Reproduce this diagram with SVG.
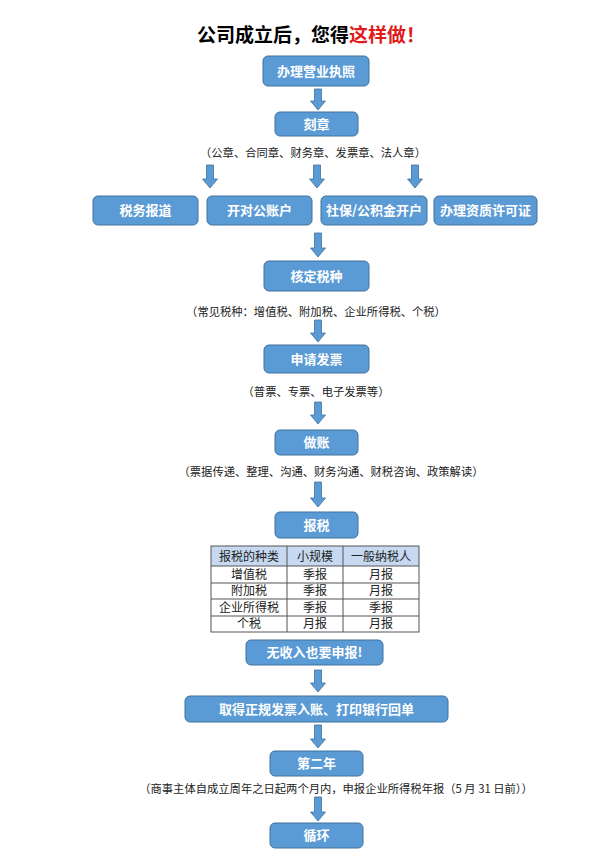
<svg xmlns="http://www.w3.org/2000/svg" width="600" height="852" viewBox="0 0 600 852">
<style>
.bg{fill:#ffffff}
.box{fill:#5b9bd5;stroke:#41719c;stroke-width:1}
.bt{font-family:"Noto Sans CJK SC","Noto Sans",sans-serif;font-size:13px;font-weight:bold;fill:#ffffff;text-anchor:middle}
.note{font-family:"Noto Sans CJK SC","Noto Sans",sans-serif;font-size:11.3px;fill:#222;text-anchor:middle}
.arr{fill:#5b9bd5;stroke:#41719c;stroke-width:0.8}
.title{font-family:"Noto Sans CJK SC","Noto Sans",sans-serif;font-size:19px;font-weight:bold;fill:#000;text-anchor:middle}
.tc{font-family:"Noto Sans CJK SC","Noto Sans",sans-serif;font-size:12px;fill:#222;text-anchor:middle}
.grid{stroke:#555;stroke-width:1;fill:none}
</style>
<rect class="bg" x="0" y="0" width="600" height="852"/>
<text class="title" x="311" y="42">公司成立后，您得<tspan fill="#e01b1b">这样做！</tspan></text>

<g id="connectors">
<polygon class="arr" points="314.5,89 321.5,89 321.5,101 325.5,101 318,110 310.5,101 314.5,101"/>
<polygon class="arr" points="206.5,165 213.5,165 213.5,179 217.5,179 210,188 202.5,179 206.5,179"/>
<polygon class="arr" points="313.5,165 320.5,165 320.5,179 324.5,179 317,188 309.5,179 313.5,179"/>
<polygon class="arr" points="411.5,165 418.5,165 418.5,179 422.5,179 415,188 407.5,179 411.5,179"/>
<polygon class="arr" points="314.5,233 321.5,233 321.5,248 325.5,248 318,257 310.5,248 314.5,248"/>
<polygon class="arr" points="314.5,320 321.5,320 321.5,333 325.5,333 318,342 310.5,333 314.5,333"/>
<polygon class="arr" points="314.5,402 321.5,402 321.5,415 325.5,415 318,424 310.5,415 314.5,415"/>
<polygon class="arr" points="314.5,482 321.5,482 321.5,498 325.5,498 318,507 310.5,498 314.5,498"/>
<polygon class="arr" points="314.5,670 321.5,670 321.5,683 325.5,683 318,692 310.5,683 314.5,683"/>
<polygon class="arr" points="314.5,725 321.5,725 321.5,739 325.5,739 318,748 310.5,739 314.5,739"/>
<polygon class="arr" points="314.5,797 321.5,797 321.5,812 325.5,812 318,821 310.5,812 314.5,812"/>
</g>

<g id="n1"><rect class="box" x="263" y="56" width="106" height="30" rx="5"/><text class="bt" x="316" y="75.5">办理营业执照</text></g>
<g id="n2"><rect class="box" x="275" y="112" width="83" height="24" rx="5"/><text class="bt" x="316.5" y="128.5">刻章</text></g>
<text class="note" x="313" y="157">（公章、合同章、财务章、发票章、法人章）</text>

<g id="n3"><rect class="box" x="93" y="196" width="105" height="29" rx="5"/><text class="bt" x="145.5" y="215">税务报道</text></g>
<g id="n4"><rect class="box" x="207" y="196" width="105" height="29" rx="5"/><text class="bt" x="259.5" y="215">开对公账户</text></g>
<g id="n5"><rect class="box" x="321" y="196" width="106" height="29" rx="5"/><text class="bt" x="374" y="215">社保/公积金开户</text></g>
<g id="n6"><rect class="box" x="434" y="196" width="103" height="29" rx="5"/><text class="bt" x="485.5" y="215">办理资质许可证</text></g>

<g id="n7"><rect class="box" x="264" y="261" width="105" height="30" rx="5"/><text class="bt" x="316.5" y="280.5">核定税种</text></g>
<text class="note" x="316" y="316">（常见税种：增值税、附加税、企业所得税、个税）</text>

<g id="n8"><rect class="box" x="264" y="345" width="105" height="28" rx="5"/><text class="bt" x="316.5" y="363.5">申请发票</text></g>
<text class="note" x="316" y="396">（普票、专票、电子发票等）</text>

<g id="n9"><rect class="box" x="275" y="430" width="83" height="25" rx="5"/><text class="bt" x="316.5" y="447">做账</text></g>
<text class="note" x="331" y="476">（票据传递、整理、沟通、财务沟通、财税咨询、政策解读）</text>

<g id="n10"><rect class="box" x="275" y="512" width="83" height="26" rx="5"/><text class="bt" x="316.5" y="529.5">报税</text></g>

<g id="table">
<rect x="211" y="546" width="208" height="20" fill="#c6d9f1"/>
<rect class="grid" x="211" y="546" width="208" height="86"/>
<line class="grid" x1="287" y1="546" x2="287" y2="632"/>
<line class="grid" x1="343" y1="546" x2="343" y2="632"/>
<line class="grid" x1="211" y1="566" x2="419" y2="566"/>
<line class="grid" x1="211" y1="583" x2="419" y2="583"/>
<line class="grid" x1="211" y1="599" x2="419" y2="599"/>
<line class="grid" x1="211" y1="616" x2="419" y2="616"/>
<text class="tc" x="249" y="560.5">报税的种类</text><text class="tc" x="315" y="560.5">小规模</text><text class="tc" x="381" y="560.5">一般纳税人</text>
<text class="tc" x="249" y="578.5">增值税</text><text class="tc" x="315" y="578.5">季报</text><text class="tc" x="381" y="578.5">月报</text>
<text class="tc" x="249" y="595">附加税</text><text class="tc" x="315" y="595">季报</text><text class="tc" x="381" y="595">月报</text>
<text class="tc" x="249" y="611.5">企业所得税</text><text class="tc" x="315" y="611.5">季报</text><text class="tc" x="381" y="611.5">季报</text>
<text class="tc" x="249" y="628">个税</text><text class="tc" x="315" y="628">月报</text><text class="tc" x="381" y="628">月报</text>
</g>

<g id="n11"><rect class="box" x="246" y="640" width="137" height="25" rx="5"/><text class="bt" x="314.5" y="657">无收入也要申报!</text></g>
<g id="n12"><rect class="box" x="185" y="696" width="263" height="26" rx="5"/><text class="bt" x="316.5" y="713.5">取得正规发票入账、打印银行回单</text></g>
<g id="n13"><rect class="box" x="270" y="751" width="93" height="25" rx="5"/><text class="bt" x="316.5" y="768">第二年</text></g>
<text class="note" x="336" y="793">（商事主体自成立周年之日起两个月内，申报企业所得税年报（5 月 31 日前））</text>
<g id="n14"><rect class="box" x="270" y="823" width="93" height="25" rx="5"/><text class="bt" x="316.5" y="840">循环</text></g>
</svg>
